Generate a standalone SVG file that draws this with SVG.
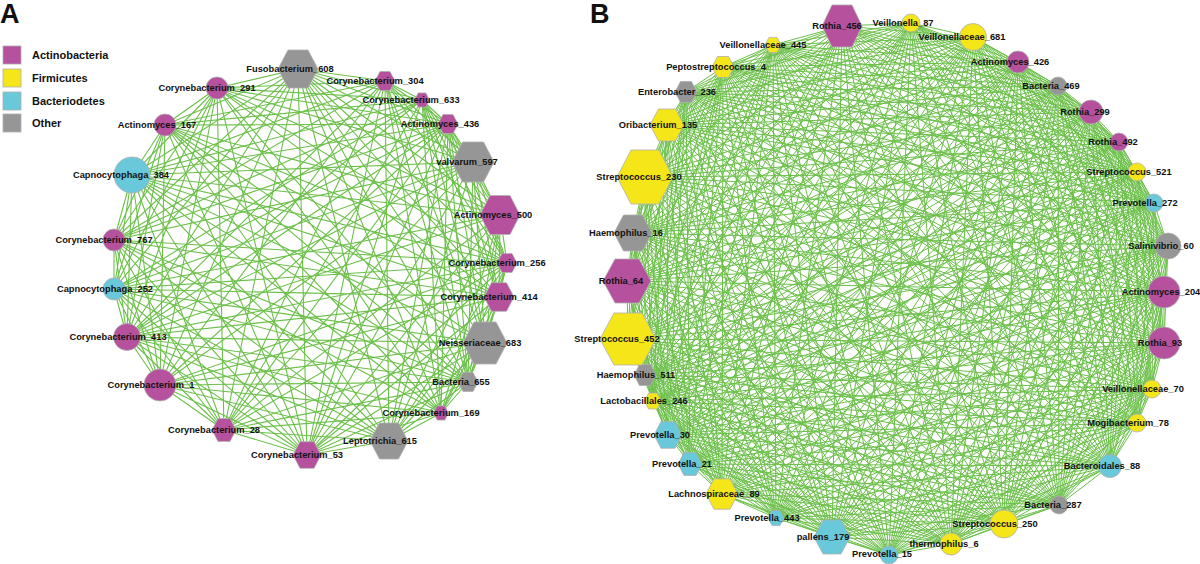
<svg xmlns="http://www.w3.org/2000/svg" width="1200" height="564" viewBox="0 0 1200 564">
<style>
.e{fill:none;stroke:#6cc04a;stroke-width:1;stroke-linejoin:round}
.ea{stroke-width:1.1}
.n{stroke:#b0b0b0;stroke-width:0.8}
.act{fill:#b5519d}.fir{fill:#f5e61a}.bac{fill:#69c8da}.oth{fill:#969696}
text{font-family:"Liberation Sans",Arial,Helvetica,sans-serif;font-weight:bold;fill:#111}
.l{font-size:9.3px;text-anchor:middle;dominant-baseline:central}
.lg{font-size:11px;dominant-baseline:central}
.p{font-size:27px}
</style>
<rect width="1200" height="564" fill="#fff"/>
<text class="p" x="0" y="23">A</text>
<text class="p" x="590" y="23">B</text>
<g id="legend">
<rect class="n act" x="3" y="46" width="18" height="18"/><text class="lg" x="32" y="55">Actinobacteria</text>
<rect class="n fir" x="3" y="69" width="18" height="18"/><text class="lg" x="32" y="78">Firmicutes</text>
<rect class="n bac" x="3" y="92" width="18" height="18"/><text class="lg" x="32" y="101">Bacteriodetes</text>
<rect class="n oth" x="3" y="114" width="18" height="18"/><text class="lg" x="32" y="123">Other</text>
</g>
<g id="connectors">
<g id="edges-a">
<path class="e ea" d="M298,69 L385,81 422,100 448,124 473,162 500,215 507,263 499,297 485,343 468,382 441,413 389,441 307,455 224,430 160,385 127,337 114,289 114,240 132,175 165,125 217,88Z"/>
<path class="e ea" d="M298,69 L422,100 473,162 507,263 485,343 441,413 307,455 160,385 114,289 132,175 217,88 385,81 448,124 500,215 499,297 468,382 389,441 224,430 127,337 114,240 165,125Z"/>
<path class="e ea" d="M298,69 L448,124 507,263 468,382 307,455 127,337 132,175Z M385,81 L473,162 499,297 441,413 224,430 114,289 165,125Z M422,100 L500,215 485,343 389,441 160,385 114,240 217,88Z"/>
<path class="e ea" d="M298,69 L473,162 485,343 307,455 114,289 217,88 448,124 499,297 389,441 127,337 165,125 422,100 507,263 441,413 160,385 132,175 385,81 500,215 468,382 224,430 114,240Z"/>
<path class="e ea" d="M298,69 L500,215 441,413 127,337 217,88 473,162 468,382 160,385 165,125 448,124 485,343 224,430 132,175 422,100 499,297 307,455 114,240 385,81 507,263 389,441 114,289Z"/>
<path class="e ea" d="M298,69 L507,263 307,455 132,175 448,124 468,382 127,337Z M422,100 L485,343 160,385 217,88 500,215 389,441 114,240Z"/>
<path class="e ea" d="M298,69 L499,297 160,385Z M385,81 L485,343 127,337Z M422,100 L468,382 114,289Z M448,124 L441,413 114,240Z M473,162 L389,441 132,175Z M500,215 L307,455 165,125Z M507,263 L224,430 217,88Z"/>
<path class="e ea" d="M298,69 L485,343 114,289 448,124 389,441 165,125 507,263 160,385 385,81 468,382 114,240 473,162 307,455 217,88 499,297 127,337 422,100 441,413 132,175 500,215 224,430Z"/>
<path class="e ea" d="M298,69 L468,382 132,175 507,263 127,337 448,124 307,455Z M385,81 L441,413 165,125 499,297 114,289 473,162 224,430Z"/>
<path class="e ea" d="M298,69 L441,413 217,88 468,382 165,125 485,343 132,175 499,297 114,240 507,263 114,289 500,215 127,337 473,162 160,385 448,124 224,430 422,100 307,455 385,81 389,441Z"/>
</g>
<g id="edges-b">
<path class="e" d="M842,26 L911,23 973,37 1018,62 1058,86 1091,112 1119,142 1137,172 1154,203 1168,246 1164,292 1164,343 1152,389 1137,423 1110,466 1059,505 1004,524 951,544 889,555 832,537 776,518 722,494 690,464 668,435 653,401 645,375 628,339 627,281 633,233 645,177 667,125 686,92 723,67 773,45Z"/>
<path class="e" d="M842,26 L973,37 1058,86 1119,142 1154,203 1164,292 1152,389 1110,466 1004,524 889,555 776,518 690,464 653,401 628,339 633,233 667,125 723,67Z M911,23 L1018,62 1091,112 1137,172 1168,246 1164,343 1137,423 1059,505 951,544 832,537 722,494 668,435 645,375 627,281 645,177 686,92 773,45Z"/>
<path class="e" d="M842,26 L1018,62 1119,142 1168,246 1152,389 1059,505 889,555 722,494 653,401 627,281 667,125 773,45 973,37 1091,112 1154,203 1164,343 1110,466 951,544 776,518 668,435 628,339 645,177 723,67 911,23 1058,86 1137,172 1164,292 1137,423 1004,524 832,537 690,464 645,375 633,233 686,92Z"/>
<path class="e" d="M842,26 L1058,86 1154,203 1152,389 1004,524 776,518 653,401 633,233 723,67 973,37 1119,142 1164,292 1110,466 889,555 690,464 628,339 667,125Z M911,23 L1091,112 1168,246 1137,423 951,544 722,494 645,375 645,177 773,45 1018,62 1137,172 1164,343 1059,505 832,537 668,435 627,281 686,92Z"/>
<path class="e" d="M842,26 L1091,112 1164,292 1059,505 776,518 645,375 667,125 911,23 1119,142 1164,343 1004,524 722,494 628,339 686,92 973,37 1137,172 1152,389 951,544 690,464 627,281 723,67 1018,62 1154,203 1137,423 889,555 668,435 633,233 773,45 1058,86 1168,246 1110,466 832,537 653,401 645,177Z"/>
<path class="e" d="M842,26 L1119,142 1152,389 889,555 653,401 667,125 973,37 1154,203 1110,466 776,518 628,339 723,67 1058,86 1164,292 1004,524 690,464 633,233Z M911,23 L1137,172 1137,423 832,537 645,375 686,92 1018,62 1168,246 1059,505 722,494 627,281 773,45 1091,112 1164,343 951,544 668,435 645,177Z"/>
<path class="e" d="M842,26 L1137,172 1110,466 722,494 633,233 911,23 1154,203 1059,505 690,464 645,177 973,37 1168,246 1004,524 668,435 667,125 1018,62 1164,292 951,544 653,401 686,92 1058,86 1164,343 889,555 645,375 723,67 1091,112 1152,389 832,537 628,339 773,45 1119,142 1137,423 776,518 627,281Z"/>
<path class="e" d="M842,26 L1154,203 1004,524 653,401 723,67 1119,142 1110,466 690,464 667,125 1058,86 1152,389 776,518 633,233 973,37 1164,292 889,555 628,339Z M911,23 L1168,246 951,544 645,375 773,45 1137,172 1059,505 668,435 686,92 1091,112 1137,423 722,494 645,177 1018,62 1164,343 832,537 627,281Z"/>
<path class="e" d="M842,26 L1168,246 889,555 627,281 973,37 1164,343 776,518 645,177 1058,86 1137,423 690,464 686,92 1119,142 1059,505 653,401 773,45 1154,203 951,544 628,339 911,23 1164,292 832,537 633,233 1018,62 1152,389 722,494 667,125 1091,112 1110,466 668,435 723,67 1137,172 1004,524 645,375Z"/>
<path class="e" d="M842,26 L1164,292 776,518 667,125 1119,142 1004,524 628,339 973,37 1152,389 690,464 723,67 1154,203 889,555 633,233 1058,86 1110,466 653,401Z M911,23 L1164,343 722,494 686,92 1137,172 951,544 627,281 1018,62 1137,423 668,435 773,45 1168,246 832,537 645,177 1091,112 1059,505 645,375Z"/>
<path class="e" d="M842,26 L1164,343 690,464 773,45 1164,292 722,494 723,67 1168,246 776,518 686,92 1154,203 832,537 667,125 1137,172 889,555 645,177 1119,142 951,544 633,233 1091,112 1004,524 627,281 1058,86 1059,505 628,339 1018,62 1110,466 645,375 973,37 1137,423 653,401 911,23 1152,389 668,435Z"/>
<path class="e" d="M842,26 L1152,389 653,401 973,37 1110,466 628,339 1058,86 1004,524 633,233 1119,142 889,555 667,125 1154,203 776,518 723,67 1164,292 690,464Z M911,23 L1137,423 645,375 1018,62 1059,505 627,281 1091,112 951,544 645,177 1137,172 832,537 686,92 1168,246 722,494 773,45 1164,343 668,435Z"/>
<path class="e" d="M842,26 L1137,423 628,339 1091,112 889,555 686,92 1164,292 668,435 973,37 1059,505 633,233 1137,172 776,518 773,45 1152,389 645,375 1058,86 951,544 667,125 1168,246 690,464 911,23 1110,466 627,281 1119,142 832,537 723,67 1164,343 653,401 1018,62 1004,524 645,177 1154,203 722,494Z"/>
<path class="e" d="M842,26 L1110,466 633,233 1154,203 690,464 973,37 1004,524 667,125 1164,292 653,401 1058,86 889,555 723,67 1152,389 628,339 1119,142 776,518Z M911,23 L1059,505 645,177 1168,246 668,435 1018,62 951,544 686,92 1164,343 645,375 1091,112 832,537 773,45 1137,423 627,281 1137,172 722,494Z"/>
<path class="e" d="M842,26 L1059,505 667,125 1164,343 628,339 1137,172 690,464 1018,62 889,555 773,45 1110,466 645,177 1164,292 645,375 1119,142 722,494 973,37 951,544 723,67 1137,423 633,233 1168,246 653,401 1091,112 776,518 911,23 1004,524 686,92 1152,389 627,281 1154,203 668,435 1058,86 832,537Z"/>
<path class="e" d="M842,26 L1004,524 723,67 1110,466 667,125 1152,389 633,233 1164,292 628,339 1154,203 653,401 1119,142 690,464 1058,86 776,518 973,37 889,555Z M911,23 L951,544 773,45 1059,505 686,92 1137,423 645,177 1164,343 627,281 1168,246 645,375 1137,172 668,435 1091,112 722,494 1018,62 832,537Z"/>
<path class="e" d="M842,26 L951,544 M911,23 L889,555 M973,37 L832,537 M1018,62 L776,518 M1058,86 L722,494 M1091,112 L690,464 M1119,142 L668,435 M1137,172 L653,401 M1154,203 L645,375 M1168,246 L628,339 M1164,292 L627,281 M1164,343 L633,233 M1152,389 L645,177 M1137,423 L667,125 M1110,466 L686,92 M1059,505 L723,67 M1004,524 L773,45"/>
</g>
</g>
<g id="nodes-a">
<g id="a-fusobacterium-608"><path class="n oth" d="M298 69m-20 0l10-19h20l10 19l-10 19h-20z"/><text class="l" x="290" y="69">Fusobacterium_608</text></g>
<g id="a-corynebacterium-304"><path class="n act" d="M385 81m-10 0l5-9.5h10l5 9.5l-5 9.5h-10z"/><text class="l" x="375" y="81">Corynebacterium_304</text></g>
<g id="a-corynebacterium-633"><path class="n act" d="M422 100m-7.5 0l3.75-7.1h7.5l3.75 7.1l-3.75 7.1h-7.5z"/><text class="l" x="411" y="100">Corynebacterium_633</text></g>
<g id="a-actinomyces-436"><path class="n act" d="M448 124m-10 0l5-9.5h10l5 9.5l-5 9.5h-10z"/><text class="l" x="440" y="124">Actinomyces_436</text></g>
<g id="a-valvarum-597"><path class="n oth" d="M473 162m-21 0l10.5-20h21l10.5 20l-10.5 20h-21z"/><text class="l" x="467" y="162">valvarum_597</text></g>
<g id="a-actinomyces-500"><path class="n act" d="M500 215m-20 0l10-19.5h20l10 19.5l-10 19.5h-20z"/><text class="l" x="493" y="215">Actinomyces_500</text></g>
<g id="a-corynebacterium-256"><path class="n act" d="M507 263m-10 0l5-9.5h10l5 9.5l-5 9.5h-10z"/><text class="l" x="497" y="263">Corynebacterium_256</text></g>
<g id="a-corynebacterium-414"><path class="n act" d="M499 297m-15 0l7.5-14.3h15l7.5 14.3l-7.5 14.3h-15z"/><text class="l" x="489" y="297">Corynebacterium_414</text></g>
<g id="a-neisseriaceae-683"><path class="n oth" d="M485 343m-22 0l11-21h22l11 21l-11 21h-22z"/><text class="l" x="480" y="343">Neisseriaceae_683</text></g>
<g id="a-bacteria-655"><path class="n oth" d="M468 382m-10 0l5-9.5h10l5 9.5l-5 9.5h-10z"/><text class="l" x="461" y="382">Bacteria_655</text></g>
<g id="a-corynebacterium-169"><path class="n act" d="M441 413m-7.5 0l3.75-7.1h7.5l3.75 7.1l-3.75 7.1h-7.5z"/><text class="l" x="431" y="413">Corynebacterium_169</text></g>
<g id="a-leptotrichia-615"><path class="n oth" d="M389 441m-19 0l9.5-18h19l9.5 18l-9.5 18h-19z"/><text class="l" x="380" y="441">Leptotrichia_615</text></g>
<g id="a-corynebacterium-53"><path class="n act" d="M307 455m-14 0l7-13.3h14l7 13.3l-7 13.3h-14z"/><text class="l" x="297" y="455">Corynebacterium_53</text></g>
<g id="a-corynebacterium-28"><path class="n act" d="M224 430m-12 0l6-11.4h12l6 11.4l-6 11.4h-12z"/><text class="l" x="214" y="430">Corynebacterium_28</text></g>
<g id="a-corynebacterium-1"><circle class="n act" cx="160" cy="385" r="16"/><text class="l" x="151" y="385">Corynebacterium_1</text></g>
<g id="a-corynebacterium-413"><circle class="n act" cx="127" cy="337" r="13.5"/><text class="l" x="118" y="337">Corynebacterium_413</text></g>
<g id="a-capnocytophaga-252"><circle class="n bac" cx="114" cy="289" r="11"/><text class="l" x="105" y="289">Capnocytophaga_252</text></g>
<g id="a-corynebacterium-767"><circle class="n act" cx="114" cy="240" r="11"/><text class="l" x="104" y="240">Corynebacterium_767</text></g>
<g id="a-capnocytophaga-384"><circle class="n bac" cx="132" cy="175" r="18"/><text class="l" x="121" y="175">Capnocytophaga_384</text></g>
<g id="a-actinomyces-167"><circle class="n act" cx="165" cy="125" r="11"/><text class="l" x="157" y="125">Actinomyces_167</text></g>
<g id="a-corynebacterium-291"><circle class="n act" cx="217" cy="88" r="11"/><text class="l" x="207" y="88">Corynebacterium_291</text></g>
</g>
<g id="nodes-b">
<g id="b-rothia-456"><path class="n act" d="M842 26m-20 0l10-21h20l10 21l-10 21h-20z"/><text class="l" x="837" y="26">Rothia_456</text></g>
<g id="b-veillonella-87"><circle class="n fir" cx="911" cy="23" r="9"/><text class="l" x="903" y="23">Veillonella_87</text></g>
<g id="b-veillonellaceae-681"><circle class="n fir" cx="973" cy="37" r="13.5"/><text class="l" x="962" y="37">Veillonellaceae_681</text></g>
<g id="b-actinomyces-426"><circle class="n act" cx="1018" cy="62" r="11"/><text class="l" x="1010" y="62">Actinomyces_426</text></g>
<g id="b-bacteria-469"><circle class="n oth" cx="1058" cy="86" r="9"/><text class="l" x="1051" y="86">Bacteria_469</text></g>
<g id="b-rothia-299"><circle class="n act" cx="1091" cy="112" r="12"/><text class="l" x="1085" y="112">Rothia_299</text></g>
<g id="b-rothia-492"><circle class="n act" cx="1119" cy="142" r="9"/><text class="l" x="1113" y="142">Rothia_492</text></g>
<g id="b-streptococcus-521"><circle class="n fir" cx="1137" cy="172" r="9"/><text class="l" x="1129" y="172">Streptococcus_521</text></g>
<g id="b-prevotella-272"><circle class="n bac" cx="1154" cy="203" r="9"/><text class="l" x="1145" y="203">Prevotella_272</text></g>
<g id="b-salinivibrio-60"><circle class="n oth" cx="1168" cy="246" r="13"/><text class="l" x="1161" y="246">Salinivibrio_60</text></g>
<g id="b-actinomyces-204"><circle class="n act" cx="1164" cy="292" r="16"/><text class="l" x="1161" y="292">Actinomyces_204</text></g>
<g id="b-rothia-93"><circle class="n act" cx="1164" cy="343" r="16"/><text class="l" x="1160" y="343">Rothia_93</text></g>
<g id="b-veillonellaceae-70"><circle class="n fir" cx="1152" cy="389" r="9"/><text class="l" x="1143" y="389">Veillonellaceae_70</text></g>
<g id="b-mogibacterium-78"><circle class="n fir" cx="1137" cy="423" r="9"/><text class="l" x="1128" y="423">Mogibacterium_78</text></g>
<g id="b-bacteroidales-88"><circle class="n bac" cx="1110" cy="466" r="11.5"/><text class="l" x="1102" y="466">Bacteroidales_88</text></g>
<g id="b-bacteria-287"><circle class="n oth" cx="1059" cy="505" r="9"/><text class="l" x="1053" y="505">Bacteria_287</text></g>
<g id="b-streptococcus-250"><circle class="n fir" cx="1004" cy="524" r="14"/><text class="l" x="995" y="524">Streptococcus_250</text></g>
<g id="b-thermophilus-6"><circle class="n fir" cx="951" cy="544" r="11"/><text class="l" x="944" y="544">thermophilus_6</text></g>
<g id="b-prevotella-15"><circle class="n bac" cx="889" cy="555" r="9"/><text class="l" x="882" y="554">Prevotella_15</text></g>
<g id="b-pallens-179"><path class="n bac" d="M832 537m-18 0l9-17h18l9 17l-9 17h-18z"/><text class="l" x="823" y="537">pallens_179</text></g>
<g id="b-prevotella-443"><path class="n bac" d="M776 518m-8 0l4-7.6h8l4 7.6l-4 7.6h-8z"/><text class="l" x="767" y="518">Prevotella_443</text></g>
<g id="b-lachnospiraceae-89"><path class="n fir" d="M722 494m-16 0l8-15.2h16l8 15.2l-8 15.2h-16z"/><text class="l" x="714" y="494">Lachnospiraceae_89</text></g>
<g id="b-prevotella-21"><path class="n bac" d="M690 464m-12 0l6-11.4h12l6 11.4l-6 11.4h-12z"/><text class="l" x="682" y="464">Prevotella_21</text></g>
<g id="b-prevotella-30"><path class="n bac" d="M668 435m-14 0l7-13.3h14l7 13.3l-7 13.3h-14z"/><text class="l" x="660" y="435">Prevotella_30</text></g>
<g id="b-lactobacillales-246"><path class="n fir" d="M653 401m-8.5 0l4.25-8h8.5l4.25 8l-4.25 8h-8.5z"/><text class="l" x="644" y="401">Lactobacillales_246</text></g>
<g id="b-haemophilus-511"><path class="n oth" d="M645 375m-11 0l5.5-10.5h11l5.5 10.5l-5.5 10.5h-11z"/><text class="l" x="636" y="375">Haemophilus_511</text></g>
<g id="b-streptococcus-452"><path class="n fir" d="M628 339m-28 0l14-26h28l14 26l-14 26h-28z"/><text class="l" x="617" y="339">Streptococcus_452</text></g>
<g id="b-rothia-64"><path class="n act" d="M627 281m-24 0l12-22h24l12 22l-12 22h-24z"/><text class="l" x="621" y="281">Rothia_64</text></g>
<g id="b-haemophilus-16"><path class="n oth" d="M633 233m-19 0l9.5-18h19l9.5 18l-9.5 18h-19z"/><text class="l" x="626" y="233">Haemophilus_16</text></g>
<g id="b-streptococcus-230"><path class="n fir" d="M645 177m-28 0l14-27h28l14 27l-14 27h-28z"/><text class="l" x="639" y="177">Streptococcus_230</text></g>
<g id="b-oribacterium-135"><path class="n fir" d="M667 125m-17 0l8.5-16h17l8.5 16l-8.5 16h-17z"/><text class="l" x="658" y="125">Oribacterium_135</text></g>
<g id="b-enterobacter-236"><path class="n oth" d="M686 92m-11 0l5.5-10.5h11l5.5 10.5l-5.5 10.5h-11z"/><text class="l" x="677" y="92">Enterobacter_236</text></g>
<g id="b-peptostreptococcus-4"><path class="n fir" d="M723 67m-11 0l5.5-10.5h11l5.5 10.5l-5.5 10.5h-11z"/><text class="l" x="716" y="67">Peptostreptococcus_4</text></g>
<g id="b-veillonellaceae-445"><path class="n fir" d="M773 45m-8 0l4-7.6h8l4 7.6l-4 7.6h-8z"/><text class="l" x="763" y="45">Veillonellaceae_445</text></g>
</g>
</svg>
